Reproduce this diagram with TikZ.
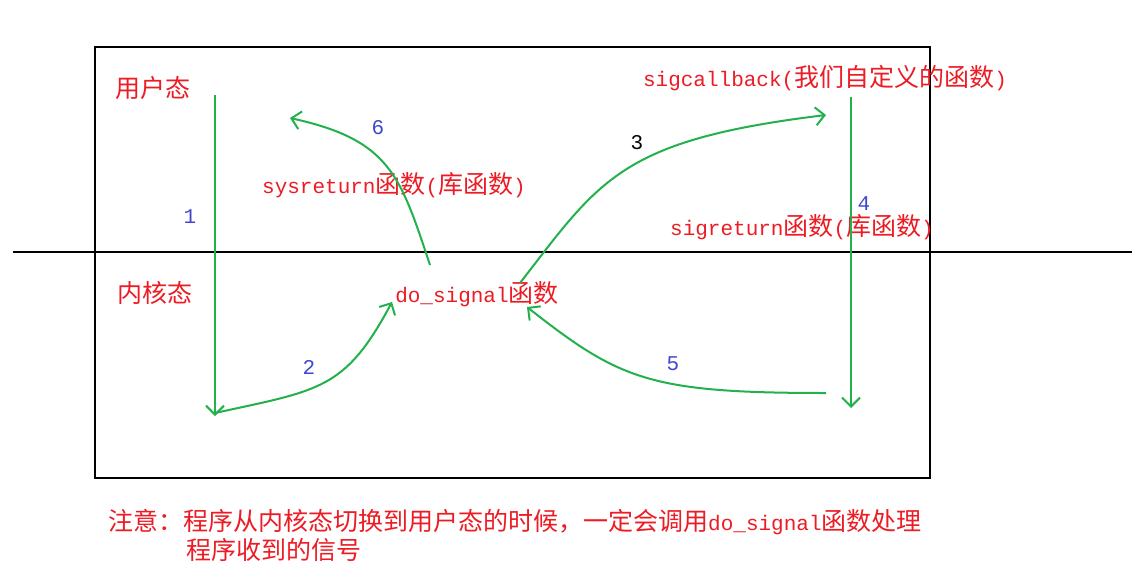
\documentclass[tikz,border=0pt]{standalone}
\usepackage{fontspec}
\newfontfamily\cjk{Noto Sans CJK SC}
\newfontfamily\lat{Liberation Mono}
\usetikzlibrary{arrows.meta}
\definecolor{arrgreen}{RGB}{34,177,76}
\definecolor{txtred}{RGB}{237,28,36}
\definecolor{numblue}{RGB}{63,72,204}
\newcommand{\Lt}[1]{{\lat\fontsize{21}{21}\selectfont #1}}
\newcommand{\Ck}[1]{{\cjk\fontsize{25}{25}\selectfont #1}}
\begin{document}
\begin{tikzpicture}[x=1pt, y=-1pt,
    lbl/.style={text=txtred, inner sep=0pt},
    num/.style={text=numblue, font=\lat\fontsize{21}{21}\selectfont, inner sep=0pt},
    flow/.style={draw=arrgreen, line width=2pt, -{Straight Barb[length=9pt, width=18pt]}}]
  \useasboundingbox (0,0) rectangle (1148,568);
  \fill[white] (0,0) rectangle (1148,568);
  \draw[line width=2pt] (95,47) rectangle (930,478);
  \draw[line width=2pt] (13,252)--(1132,252);
  % texts
  \node[lbl] (user) at (153,88) {\Ck{用户态}};
  \node[lbl] (kern) at (155,293) {\Ck{内核态}};
  \node[lbl] (sysret) at (394,185) {\Lt{sysreturn}\Ck{函数}\Lt{(}\Ck{库函数}\Lt{)}};
  \node[lbl] (dosig) at (477,294) {\Lt{do\_signal}\Ck{函数}};
  \node[lbl] (cb) at (825,78) {\Lt{sigcallback(}\Ck{我们自定义的函数}\Lt{)}};
  \node[lbl] (sigret) at (802,227) {\Lt{sigreturn}\Ck{函数}\Lt{(}\Ck{库函数}\Lt{)}};
  \node[lbl, anchor=west] (note1) at (108,522) {\Ck{注意：程序从内核态切换到用户态的时候，一定会调用}\Lt{do\_signal}\Ck{函数处理}};
  \node[lbl, anchor=west] (note2) at (186,550) {\Ck{程序收到的信号}};
  % numbers
  \node[num] (n1) at (190,217) {1};
  \node[num] (n2) at (309,367) {2};
  \node[num, text=black] (n3) at (637,143) {3};
  \node[num] (n4) at (864,204) {4};
  \node[num] (n5) at (673,364) {5};
  \node[num] (n6) at (378,128) {6};
  % arrow ends
  \coordinate (a1) at (215,95);  \coordinate (b1) at (215,416);
  \coordinate (a2) at (215,413); \coordinate (b2) at (392,302);
  \coordinate (a3) at (520,283); \coordinate (b3) at (826,115);
  \coordinate (a4) at (851,97);  \coordinate (b4) at (851,408);
  \coordinate (a5) at (826,393); \coordinate (b5) at (527,307);
  \coordinate (a6) at (430,265); \coordinate (b6) at (290,118);
  \draw[flow] (a1)--(b1);
  \draw[flow] (a2) .. controls (320,390) and (345,390) .. (b2);
  \draw[flow] (a3) .. controls (600,180) and (620,140) .. (b3);
  \draw[flow] (a4)--(b4);
  \draw[flow] (a5) .. controls (650,393) and (620,380) .. (b5);
  \draw[flow] (a6) .. controls (400,175) and (390,140) .. (b6);
\end{tikzpicture}
\end{document}
